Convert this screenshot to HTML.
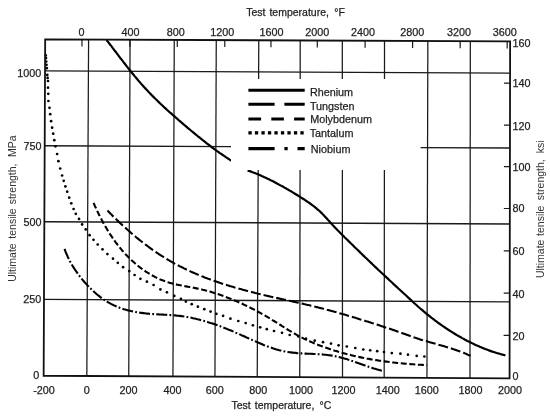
<!DOCTYPE html>
<html><head><meta charset="utf-8"><title>Ultimate tensile strength vs temperature</title>
<style>html,body{margin:0;padding:0;background:#fff;width:550px;height:417px;overflow:hidden}svg{display:block}</style>
</head><body>
<svg width="550" height="417" viewBox="0 0 550 417">
<rect width="550" height="417" fill="#fff"/>
<g stroke="#1a1a1a" fill="none"><line x1="88.59" y1="39.48" x2="86.83" y2="376.00" stroke-width="1.25"/><line x1="130.06" y1="39.67" x2="128.75" y2="376.24" stroke-width="1.25"/><line x1="174.26" y1="39.87" x2="172.95" y2="376.49" stroke-width="1.25"/><line x1="216.26" y1="40.06" x2="214.95" y2="376.73" stroke-width="1.25"/><line x1="258.77" y1="40.25" x2="258.60" y2="79.00" stroke-width="1.25"/><line x1="258.18" y1="170.00" x2="257.24" y2="376.97" stroke-width="1.25"/><line x1="300.22" y1="40.44" x2="300.17" y2="79.00" stroke-width="1.25"/><line x1="300.05" y1="170.00" x2="299.78" y2="377.21" stroke-width="1.25"/><line x1="342.29" y1="40.63" x2="342.31" y2="79.00" stroke-width="1.25"/><line x1="342.37" y1="170.00" x2="342.51" y2="377.46" stroke-width="1.25"/><line x1="384.51" y1="40.82" x2="384.48" y2="79.00" stroke-width="1.25"/><line x1="384.39" y1="170.00" x2="384.19" y2="377.70" stroke-width="1.25"/><line x1="427.84" y1="41.02" x2="426.96" y2="377.94" stroke-width="1.25"/><line x1="470.31" y1="41.21" x2="469.99" y2="378.19" stroke-width="1.25"/><line x1="45.03" y1="70.88" x2="510.07" y2="73.20" stroke-width="1.35"/><line x1="44.69" y1="145.78" x2="231.00" y2="146.67" stroke-width="1.35"/><line x1="420.40" y1="147.57" x2="509.95" y2="148.00" stroke-width="1.35"/><line x1="44.34" y1="221.78" x2="509.83" y2="223.99" stroke-width="1.35"/><line x1="43.99" y1="299.36" x2="509.70" y2="301.91" stroke-width="1.35"/><line x1="82.00" y1="39.45" x2="81.98" y2="46.45" stroke-width="1.2"/><line x1="129.90" y1="39.67" x2="129.88" y2="46.67" stroke-width="1.2"/><line x1="177.30" y1="39.89" x2="177.28" y2="46.89" stroke-width="1.2"/><line x1="224.80" y1="40.10" x2="224.78" y2="47.10" stroke-width="1.2"/><line x1="271.00" y1="40.31" x2="270.98" y2="47.31" stroke-width="1.2"/><line x1="317.30" y1="40.52" x2="317.28" y2="47.52" stroke-width="1.2"/><line x1="365.10" y1="40.73" x2="365.08" y2="47.73" stroke-width="1.2"/><line x1="412.60" y1="40.95" x2="412.58" y2="47.95" stroke-width="1.2"/><line x1="460.20" y1="41.17" x2="460.18" y2="48.17" stroke-width="1.2"/><line x1="507.20" y1="41.38" x2="507.18" y2="48.38" stroke-width="1.2"/><line x1="510.06" y1="83.20" x2="504.06" y2="83.18" stroke-width="1.2"/><line x1="509.99" y1="125.10" x2="503.99" y2="125.08" stroke-width="1.2"/><line x1="509.92" y1="166.60" x2="503.92" y2="166.58" stroke-width="1.2"/><line x1="509.85" y1="208.50" x2="503.85" y2="208.48" stroke-width="1.2"/><line x1="509.78" y1="250.80" x2="503.78" y2="250.78" stroke-width="1.2"/><line x1="509.71" y1="293.10" x2="503.71" y2="293.08" stroke-width="1.2"/><line x1="509.64" y1="335.40" x2="503.64" y2="335.38" stroke-width="1.2"/></g>
<g stroke="#000" fill="none" stroke-linecap="butt"><path d="M106.5,40.0 L107.5,41.2 L108.4,42.4 L109.3,43.5 L110.2,44.7 L111.2,45.9 L112.1,47.1 L113.0,48.4 L113.9,49.6 L114.8,50.8 L115.8,52.0 L116.7,53.2 L117.6,54.4 L118.5,55.6 L119.4,56.8 L120.3,58.0 L121.3,59.2 L122.2,60.4 L123.1,61.6 L124.0,62.8 L125.0,64.0 L125.9,65.2 L126.8,66.4 L127.8,67.6 L128.7,68.8 L129.7,70.0 L130.6,71.2 L131.5,72.3 L132.5,73.5 L133.5,74.7 L134.4,75.9 L135.4,77.0 L136.4,78.2 L137.3,79.3 L138.3,80.5 L139.3,81.6 L140.3,82.8 L141.3,83.9 L142.3,85.1 L143.3,86.2 L144.3,87.3 L145.3,88.4 L146.4,89.5 L147.4,90.6 L148.4,91.7 L149.5,92.8 L150.5,93.9 L151.6,95.0 L152.7,96.1 L153.7,97.1 L154.8,98.2 L155.9,99.3 L157.0,100.3 L158.0,101.4 L159.1,102.4 L160.2,103.5 L161.3,104.5 L162.4,105.5 L163.5,106.6 L164.6,107.6 L165.8,108.6 L166.9,109.7 L168.0,110.7 L169.1,111.7 L170.2,112.7 L171.4,113.7 L172.5,114.7 L173.6,115.7 L174.8,116.7 L175.9,117.7 L177.1,118.7 L178.2,119.7 L179.3,120.7 L180.5,121.7 L181.6,122.7 L182.8,123.7 L183.9,124.7 L185.1,125.6 L186.3,126.6 L187.4,127.6 L188.6,128.6 L189.7,129.5 L190.9,130.5 L192.1,131.5 L193.2,132.4 L194.4,133.4 L195.6,134.4 L196.8,135.3 L197.9,136.3 L199.1,137.2 L200.3,138.2 L201.5,139.1 L202.7,140.1 L203.8,141.0 L205.0,141.9 L206.2,142.9 L207.4,143.8 L208.6,144.7 L209.8,145.6 L211.0,146.6 L212.2,147.5 L213.4,148.4 L214.6,149.3 L215.9,150.2 L217.1,151.1 L218.3,151.9 L219.5,152.8 L220.8,153.7 L222.0,154.5 L223.3,155.4 L224.5,156.2 L225.8,157.1 L227.0,157.9 L228.3,158.7 L229.6,159.6 L230.9,160.4 L232.2,161.2 L233.5,161.9 L234.8,162.7 L236.1,163.5" stroke-width="2.2"/><path d="M247.6,170.4 L249.0,170.9 L250.5,171.4 L251.9,171.9 L253.3,172.5 L254.7,173.0 L256.1,173.6 L257.5,174.1 L258.9,174.7 L260.3,175.3 L261.6,175.9 L263.0,176.5 L264.4,177.2 L265.8,177.8 L267.1,178.5 L268.5,179.1 L269.8,179.8 L271.2,180.5 L272.5,181.1 L273.9,181.8 L275.2,182.5 L276.5,183.2 L277.9,183.9 L279.2,184.7 L280.5,185.4 L281.8,186.1 L283.2,186.8 L284.5,187.6 L285.8,188.3 L287.1,189.1 L288.4,189.8 L289.7,190.6 L291.0,191.3 L292.3,192.1 L293.6,192.9 L294.9,193.7 L296.2,194.5 L297.5,195.3 L298.8,196.1 L300.1,196.9 L301.3,197.7 L302.6,198.5 L303.9,199.3 L305.1,200.1 L306.4,201.0 L307.6,201.8 L308.9,202.7 L310.1,203.5 L311.3,204.4 L312.5,205.3 L313.7,206.2 L314.9,207.1 L316.1,208.1 L317.2,209.1 L318.4,210.0 L319.5,211.0 L320.6,212.1 L321.7,213.1 L322.7,214.2 L323.8,215.3 L324.8,216.4 L325.8,217.5 L326.8,218.6 L327.8,219.7 L328.9,220.8 L329.9,221.9 L330.9,223.1 L331.9,224.2 L332.9,225.3 L334.0,226.4 L335.0,227.5 L336.0,228.6 L337.1,229.7 L338.1,230.7 L339.2,231.8 L340.3,232.9 L341.3,234.0 L342.4,235.0 L343.5,236.1 L344.5,237.2 L345.6,238.2 L346.7,239.3 L347.8,240.3 L348.8,241.4 L349.9,242.4 L351.0,243.5 L352.1,244.5 L353.2,245.6 L354.2,246.7 L355.3,247.7 L356.4,248.8 L357.5,249.8 L358.6,250.9 L359.7,251.9 L360.7,253.0 L361.8,254.0 L362.9,255.1 L364.0,256.1 L365.1,257.2 L366.2,258.2 L367.3,259.2 L368.3,260.3 L369.4,261.3 L370.5,262.4 L371.6,263.4 L372.7,264.5 L373.8,265.5 L374.9,266.6 L376.0,267.6 L377.1,268.6 L378.2,269.7 L379.3,270.7 L380.4,271.7 L381.5,272.8 L382.6,273.8 L383.7,274.8 L384.8,275.9 L385.9,276.9 L387.0,277.9 L388.1,278.9 L389.2,280.0 L390.3,281.0 L391.4,282.0 L392.5,283.0 L393.6,284.1 L394.7,285.1 L395.8,286.1 L397.0,287.1 L398.1,288.2 L399.2,289.2 L400.3,290.2 L401.4,291.2 L402.5,292.2 L403.6,293.3 L404.7,294.3 L405.8,295.3 L406.9,296.3 L408.0,297.4 L409.1,298.4 L410.2,299.4 L411.3,300.4 L412.4,301.5 L413.5,302.5 L414.6,303.5 L415.8,304.5 L416.9,305.5 L418.0,306.5 L419.1,307.5 L420.3,308.5 L421.4,309.5 L422.6,310.4 L423.7,311.4 L424.9,312.4 L426.0,313.3 L427.2,314.3 L428.4,315.2 L429.5,316.2 L430.7,317.1 L431.9,318.0 L433.1,319.0 L434.3,319.9 L435.5,320.8 L436.7,321.7 L437.9,322.6 L439.2,323.5 L440.4,324.3 L441.6,325.2 L442.9,326.1 L444.1,326.9 L445.3,327.8 L446.6,328.6 L447.9,329.5 L449.1,330.3 L450.4,331.1 L451.7,331.9 L453.0,332.7 L454.2,333.5 L455.5,334.3 L456.8,335.1 L458.1,335.8 L459.4,336.6 L460.8,337.3 L462.1,338.1 L463.4,338.8 L464.7,339.5 L466.1,340.2 L467.4,340.9 L468.8,341.6 L470.1,342.3 L471.5,342.9 L472.8,343.6 L474.2,344.2 L475.5,344.9 L476.9,345.5 L478.3,346.1 L479.7,346.7 L481.1,347.3 L482.5,347.9 L483.9,348.4 L485.3,349.0 L486.7,349.5 L488.1,350.1 L489.5,350.6 L490.9,351.1 L492.4,351.6 L493.8,352.0 L495.2,352.5 L496.7,353.0 L498.1,353.4 L499.6,353.8 L501.0,354.2 L502.5,354.6 L503.9,355.0 L505.4,355.4" stroke-width="2.2"/><path d="M107.5,210.6 L108.5,211.6 L109.6,212.7 L110.6,213.8 L111.7,214.8 L112.7,215.9 L113.8,216.9 L114.9,218.0 L116.0,219.1 L117.0,220.1 L118.1,221.1 L119.2,222.2 L120.3,223.2 L121.4,224.2 L122.5,225.3 L123.6,226.3 L124.7,227.3 L125.9,228.3 L127.0,229.3 L128.1,230.3 L129.3,231.3 L130.4,232.3 L131.5,233.3 L132.7,234.3 L133.8,235.3 L135.0,236.2 L136.2,237.2 L137.3,238.2 L138.5,239.1 L139.7,240.1 L140.9,241.0 L142.1,242.0 L143.2,242.9 L144.4,243.8 L145.6,244.7 L146.9,245.6 L148.1,246.5 L149.3,247.4 L150.5,248.3 L151.7,249.2 L153.0,250.1 L154.2,250.9 L155.4,251.8 L156.7,252.6 L157.9,253.5 L159.2,254.3 L160.5,255.1 L161.7,255.9 L163.0,256.7 L164.3,257.5 L165.6,258.3 L166.9,259.1 L168.2,259.9 L169.5,260.6 L170.8,261.4 L172.1,262.1 L173.4,262.8 L174.7,263.6 L176.0,264.3 L177.3,265.0 L178.7,265.7 L180.0,266.4 L181.4,267.0 L182.7,267.7 L184.0,268.4 L185.4,269.0 L186.8,269.7 L188.1,270.3 L189.5,270.9 L190.8,271.6 L192.2,272.2 L193.6,272.8 L195.0,273.4 L196.4,274.0 L197.7,274.6 L199.1,275.1 L200.5,275.7 L201.9,276.3 L203.3,276.8 L204.7,277.4 L206.1,277.9 L207.5,278.5 L209.0,279.0 L210.4,279.5 L211.8,280.0 L213.2,280.5 L214.6,281.0 L216.1,281.5 L217.5,282.0 L218.9,282.5 L220.3,283.0 L221.8,283.5 L223.2,283.9 L224.7,284.4 L226.1,284.8 L227.5,285.3 L229.0,285.7 L230.4,286.2 L231.9,286.6 L233.3,287.0 L234.8,287.5 L236.2,287.9 L237.7,288.3 L239.1,288.7 L240.6,289.1 L242.1,289.5 L243.5,289.9 L245.0,290.3 L246.4,290.7 L247.9,291.1 L249.4,291.5 L250.8,291.8 L252.3,292.2 L253.8,292.6 L255.2,293.0 L256.7,293.3 L258.2,293.7 L259.6,294.0 L261.1,294.4 L262.6,294.7 L264.0,295.1 L265.5,295.4 L267.0,295.8 L268.4,296.1 L269.9,296.4 L271.4,296.8 L272.8,297.1 L274.3,297.4 L275.8,297.8 L277.3,298.1 L278.7,298.4 L280.2,298.7 L281.7,299.1 L283.1,299.4 L284.6,299.7 L286.1,300.0 L287.5,300.4 L289.0,300.7 L290.5,301.0 L291.9,301.3 L293.4,301.7 L294.9,302.0 L296.3,302.3 L297.8,302.6 L299.3,303.0 L300.7,303.3 L302.2,303.6 L303.7,304.0 L305.1,304.3 L306.6,304.7 L308.1,305.0 L309.5,305.3 L311.0,305.7 L312.5,306.0 L313.9,306.4 L315.4,306.8 L316.9,307.1 L318.3,307.5 L319.8,307.9 L321.2,308.2 L322.7,308.6 L324.2,309.0 L325.6,309.4 L327.1,309.8 L328.5,310.1 L330.0,310.5 L331.4,310.9 L332.9,311.3 L334.3,311.7 L335.8,312.1 L337.3,312.5 L338.7,313.0 L340.2,313.4 L341.6,313.8 L343.1,314.2 L344.5,314.6 L346.0,315.0 L347.4,315.5 L348.9,315.9 L350.3,316.3 L351.8,316.8 L353.2,317.2 L354.6,317.6 L356.1,318.1 L357.5,318.5 L359.0,318.9 L360.4,319.4 L361.9,319.8 L363.3,320.3 L364.7,320.7 L366.2,321.2 L367.6,321.6 L369.0,322.1 L370.5,322.5 L371.9,323.0 L373.4,323.4 L374.8,323.9 L376.2,324.4 L377.7,324.8 L379.1,325.3 L380.5,325.8 L381.9,326.2 L383.4,326.7 L384.8,327.2 L386.2,327.7 L387.6,328.1 L389.1,328.6 L390.5,329.1 L391.9,329.6 L393.3,330.1 L394.8,330.6 L396.2,331.1 L397.6,331.6 L399.0,332.1 L400.4,332.6 L401.8,333.1 L403.3,333.6 L404.7,334.1 L406.1,334.6 L407.5,335.1 L408.9,335.6 L410.3,336.1 L411.8,336.6 L413.2,337.1 L414.6,337.6 L416.0,338.0 L417.5,338.5 L418.9,339.0 L420.3,339.4 L421.8,339.9 L423.2,340.3 L424.7,340.7 L426.1,341.1 L427.6,341.6 L429.0,342.0 L430.5,342.4 L431.9,342.8 L433.4,343.2 L434.8,343.6 L436.3,344.0 L437.7,344.5 L439.2,344.9 L440.6,345.3 L442.1,345.7 L443.5,346.1 L445.0,346.6 L446.4,347.0 L447.9,347.4 L449.3,347.9 L450.7,348.3 L452.2,348.8 L453.6,349.2 L455.1,349.7 L456.5,350.2 L457.9,350.7 L459.3,351.2 L460.7,351.7 L462.1,352.3 L463.6,352.8 L465.0,353.4 L466.4,354.0 L467.7,354.6 L469.1,355.2 L470.5,355.8" stroke-width="2.1" stroke-dasharray="10 3" stroke-dashoffset="1.5"/><path d="M93.6,202.9 L94.2,204.3 L94.8,205.7 L95.4,207.0 L96.1,208.4 L96.7,209.8 L97.3,211.1 L98.0,212.5 L98.6,213.8 L99.3,215.2 L100.0,216.5 L100.7,217.9 L101.4,219.2 L102.1,220.6 L102.8,221.9 L103.5,223.2 L104.3,224.5 L105.0,225.8 L105.8,227.1 L106.5,228.4 L107.3,229.7 L108.1,231.0 L108.9,232.3 L109.7,233.6 L110.5,234.8 L111.4,236.1 L112.2,237.3 L113.1,238.6 L113.9,239.8 L114.8,241.0 L115.7,242.3 L116.6,243.5 L117.5,244.7 L118.4,245.8 L119.4,247.0 L120.3,248.2 L121.3,249.4 L122.2,250.5 L123.2,251.6 L124.2,252.8 L125.2,253.9 L126.3,255.0 L127.3,256.1 L128.4,257.1 L129.4,258.2 L130.5,259.3 L131.6,260.3 L132.7,261.3 L133.9,262.3 L135.0,263.3 L136.2,264.3 L137.3,265.3 L138.5,266.2 L139.7,267.2 L140.9,268.1 L142.1,269.0 L143.3,269.9 L144.6,270.7 L145.8,271.6 L147.1,272.4 L148.4,273.2 L149.7,274.0 L151.0,274.8 L152.3,275.5 L153.6,276.2 L154.9,276.9 L156.3,277.6 L157.6,278.3 L159.0,278.9 L160.3,279.5 L161.7,280.1 L163.1,280.6 L164.5,281.1 L165.9,281.6 L167.3,282.1 L168.8,282.5 L170.2,282.9 L171.6,283.3 L173.1,283.7 L174.5,284.1 L176.0,284.4 L177.5,284.7 L178.9,285.0 L180.4,285.3 L181.9,285.6 L183.4,285.9 L184.9,286.2 L186.3,286.4 L187.8,286.7 L189.3,287.0 L190.8,287.2 L192.3,287.5 L193.8,287.8 L195.3,288.1 L196.7,288.4 L198.2,288.7 L199.7,289.0 L201.2,289.3 L202.6,289.7 L204.1,290.0 L205.5,290.4 L207.0,290.8 L208.4,291.2 L209.9,291.6 L211.3,292.0 L212.8,292.4 L214.2,292.9 L215.6,293.3 L217.1,293.8 L218.5,294.3 L219.9,294.8 L221.3,295.3 L222.8,295.8 L224.2,296.3 L225.6,296.8 L227.0,297.4 L228.4,297.9 L229.8,298.5 L231.2,299.0 L232.6,299.6 L234.0,300.2 L235.4,300.8 L236.8,301.4 L238.1,302.0 L239.5,302.6 L240.9,303.2 L242.3,303.8 L243.6,304.5 L245.0,305.1 L246.4,305.8 L247.7,306.4 L249.1,307.1 L250.4,307.8 L251.8,308.5 L253.1,309.1 L254.5,309.8 L255.8,310.5 L257.1,311.3 L258.5,312.0 L259.8,312.7 L261.1,313.4 L262.4,314.2 L263.8,314.9 L265.1,315.6 L266.4,316.4 L267.7,317.2 L269.0,317.9 L270.3,318.7 L271.6,319.5 L272.8,320.3 L274.1,321.0 L275.4,321.8 L276.7,322.6 L277.9,323.4 L279.2,324.2 L280.5,325.0 L281.7,325.8 L283.0,326.6 L284.3,327.4 L285.6,328.2 L286.8,329.0 L288.1,329.8 L289.4,330.6 L290.7,331.3 L292.0,332.1 L293.3,332.9 L294.6,333.6 L295.9,334.4 L297.2,335.1 L298.5,335.8 L299.8,336.5 L301.2,337.2 L302.5,337.9 L303.8,338.6 L305.2,339.2 L306.6,339.9 L307.9,340.5 L309.3,341.1 L310.7,341.8 L312.1,342.4 L313.5,343.0 L314.9,343.5 L316.3,344.1 L317.7,344.7 L319.1,345.2 L320.5,345.8 L321.9,346.3 L323.3,346.8 L324.8,347.3 L326.2,347.8 L327.6,348.3 L329.0,348.8 L330.5,349.3 L331.9,349.8 L333.3,350.2 L334.8,350.7 L336.2,351.1 L337.7,351.6 L339.1,352.0 L340.6,352.4 L342.0,352.8 L343.5,353.2 L344.9,353.6 L346.4,354.0 L347.8,354.4 L349.3,354.7 L350.8,355.1 L352.2,355.4 L353.7,355.8 L355.2,356.1 L356.6,356.4 L358.1,356.8 L359.6,357.1 L361.1,357.4 L362.5,357.7 L364.0,358.0 L365.5,358.3 L367.0,358.6 L368.4,358.8 L369.9,359.1 L371.4,359.4 L372.9,359.6 L374.4,359.9 L375.9,360.1 L377.4,360.3 L378.9,360.6 L380.3,360.8 L381.8,361.0 L383.3,361.2 L384.8,361.4 L386.3,361.6 L387.8,361.8 L389.3,362.0 L390.8,362.2 L392.3,362.4 L393.8,362.5 L395.3,362.7 L396.8,362.9 L398.3,363.0 L399.8,363.2 L401.3,363.3 L402.8,363.5 L404.3,363.6 L405.8,363.7 L407.3,363.9 L408.8,364.0 L410.3,364.1 L411.8,364.2 L413.4,364.3 L414.9,364.5 L416.4,364.6 L417.9,364.7 L419.4,364.8 L420.9,364.8 L422.4,364.9 L423.9,365.0 L425.4,365.1 L426.9,365.2" stroke-width="2.1" stroke-dasharray="6 2.6"/><path d="M64.5,248.8 L65.0,250.2 L65.5,251.6 L66.1,253.0 L66.7,254.4 L67.3,255.8 L67.9,257.1 L68.6,258.5 L69.3,259.8 L69.9,261.2 L70.7,262.5 L71.4,263.8 L72.1,265.1 L72.9,266.4 L73.7,267.7 L74.5,268.9 L75.3,270.2 L76.2,271.4 L77.1,272.7 L77.9,273.9 L78.8,275.1 L79.8,276.3 L80.7,277.5 L81.6,278.7 L82.6,279.9 L83.6,281.0 L84.6,282.2 L85.6,283.3 L86.6,284.4 L87.7,285.6 L88.7,286.7 L89.8,287.8 L90.9,288.8 L92.0,289.9 L93.1,290.9 L94.2,292.0 L95.4,293.0 L96.5,294.0 L97.7,295.0 L98.9,295.9 L100.1,296.9 L101.3,297.8 L102.5,298.7 L103.7,299.5 L105.0,300.4 L106.2,301.2 L107.5,302.0 L108.8,302.7 L110.1,303.4 L111.4,304.1 L112.8,304.8 L114.1,305.4 L115.5,306.0 L116.9,306.6 L118.2,307.2 L119.6,307.7 L121.0,308.2 L122.5,308.7 L123.9,309.2 L125.3,309.6 L126.8,310.0 L128.2,310.4 L129.7,310.7 L131.1,311.1 L132.6,311.4 L134.1,311.7 L135.6,312.0 L137.1,312.3 L138.6,312.5 L140.1,312.7 L141.6,312.9 L143.1,313.1 L144.6,313.3 L146.1,313.5 L147.7,313.6 L149.2,313.8 L150.7,313.9 L152.2,314.0 L153.8,314.1 L155.3,314.2 L156.8,314.3 L158.4,314.4 L159.9,314.5 L161.4,314.5 L163.0,314.6 L164.5,314.7 L166.0,314.8 L167.5,314.9 L169.1,315.0 L170.6,315.1 L172.1,315.2 L173.6,315.3 L175.1,315.4 L176.7,315.6 L178.2,315.7 L179.7,315.9 L181.2,316.1 L182.7,316.3 L184.2,316.5 L185.6,316.7 L187.1,317.0 L188.6,317.3 L190.1,317.5 L191.5,317.8 L193.0,318.2 L194.5,318.5 L195.9,318.8 L197.4,319.2 L198.9,319.5 L200.3,319.9 L201.8,320.3 L203.2,320.7 L204.6,321.1 L206.1,321.5 L207.5,322.0 L208.9,322.4 L210.4,322.9 L211.8,323.3 L213.2,323.8 L214.7,324.3 L216.1,324.8 L217.5,325.3 L218.9,325.8 L220.3,326.3 L221.7,326.9 L223.1,327.4 L224.5,328.0 L226.0,328.5 L227.4,329.1 L228.8,329.7 L230.2,330.2 L231.6,330.8 L233.0,331.4 L234.4,332.0 L235.7,332.6 L237.1,333.2 L238.5,333.8 L239.9,334.4 L241.3,335.1 L242.7,335.7 L244.1,336.3 L245.5,337.0 L246.9,337.6 L248.3,338.2 L249.6,338.8 L251.0,339.5 L252.4,340.1 L253.8,340.7 L255.2,341.3 L256.6,341.9 L258.0,342.6 L259.4,343.1 L260.8,343.7 L262.2,344.3 L263.6,344.9 L265.0,345.4 L266.4,346.0 L267.8,346.5 L269.2,347.0 L270.6,347.5 L272.1,348.0 L273.5,348.5 L274.9,348.9 L276.4,349.4 L277.8,349.8 L279.2,350.2 L280.7,350.5 L282.2,350.9 L283.6,351.2 L285.1,351.5 L286.6,351.8 L288.0,352.0 L289.5,352.2 L291.0,352.4 L292.5,352.6 L294.0,352.8 L295.5,352.9 L297.0,353.1 L298.5,353.2 L300.1,353.3 L301.6,353.4 L303.1,353.5 L304.6,353.6 L306.1,353.6 L307.7,353.7 L309.2,353.8 L310.7,353.8 L312.2,353.9 L313.8,354.0 L315.3,354.0 L316.8,354.1 L318.3,354.2 L319.8,354.3 L321.4,354.4 L322.9,354.5 L324.4,354.7 L325.9,354.8 L327.4,355.0 L328.9,355.2 L330.4,355.4 L331.9,355.6 L333.4,355.9 L334.8,356.1 L336.3,356.4 L337.8,356.8 L339.2,357.1 L340.7,357.5 L342.1,357.9 L343.6,358.3 L345.0,358.7 L346.5,359.1 L347.9,359.6 L349.3,360.0 L350.8,360.5 L352.2,361.0 L353.6,361.5 L355.1,362.0 L356.5,362.5 L357.9,363.0 L359.3,363.5 L360.8,364.0 L362.2,364.5 L363.6,365.0 L365.1,365.5 L366.5,366.0 L367.9,366.5 L369.4,367.0 L370.8,367.5 L372.3,367.9 L373.7,368.4 L375.1,368.8 L376.6,369.3 L378.1,369.7 L379.5,370.1 L381.0,370.5 L382.5,370.8" stroke-width="2.1" stroke-dasharray="11 2.2 1.8 2.2"/></g>
<g fill="#000" stroke="none"><circle cx="45.8" cy="55.4" r="1.35"/><circle cx="46" cy="58.1" r="1.35"/><circle cx="46.2" cy="61.5" r="1.35"/><circle cx="46.5" cy="64.8" r="1.35"/><circle cx="46.8" cy="68.2" r="1.35"/><circle cx="47.3" cy="74.9" r="1.35"/><circle cx="47.6" cy="77.9" r="1.35"/><circle cx="48" cy="81" r="1.35"/><circle cx="48" cy="87.7" r="1.35"/><circle cx="48.3" cy="93.8" r="1.35"/><circle cx="48.4" cy="101" r="1.35"/><circle cx="49.5" cy="107.8" r="1.35"/><circle cx="50.2" cy="114.2" r="1.35"/><circle cx="51.1" cy="121.2" r="1.35"/><circle cx="52.1" cy="127.7" r="1.35"/><circle cx="53.2" cy="133.7" r="1.35"/><circle cx="54.3" cy="140.2" r="1.35"/><circle cx="55.4" cy="146.3" r="1.35"/><circle cx="57.1" cy="154" r="1.35"/><circle cx="58.4" cy="161.2" r="1.35"/><circle cx="60.2" cy="168.5" r="1.35"/><circle cx="62.1" cy="175.5" r="1.35"/><circle cx="63.7" cy="180.8" r="1.35"/><circle cx="65.4" cy="186.4" r="1.35"/><circle cx="67.2" cy="191.7" r="1.35"/><circle cx="69.2" cy="197.7" r="1.35"/><circle cx="71.3" cy="203.3" r="1.35"/><circle cx="73.6" cy="209" r="1.35"/><circle cx="75.8" cy="213.8" r="1.35"/><circle cx="79" cy="218.9" r="1.35"/><circle cx="82.1" cy="224.4" r="1.35"/><circle cx="85.7" cy="229.4" r="1.35"/><circle cx="89.6" cy="235.2" r="1.35"/><circle cx="93.5" cy="239.8" r="1.35"/><circle cx="97.7" cy="244.5" r="1.35"/><circle cx="102.5" cy="249.3" r="1.35"/><circle cx="107.4" cy="254.1" r="1.35"/><circle cx="113" cy="258.7" r="1.35"/><circle cx="117.8" cy="262.8" r="1.35"/><circle cx="123.1" cy="267.2" r="1.35"/><circle cx="129.3" cy="271.1" r="1.35"/><circle cx="134.6" cy="275" r="1.35"/><circle cx="140.4" cy="278.8" r="1.35"/><circle cx="146.9" cy="281.7" r="1.35"/><circle cx="153.6" cy="285" r="1.35"/><circle cx="160.4" cy="289.4" r="1.35"/><circle cx="166.9" cy="292.3" r="1.35"/><circle cx="174.3" cy="295.9" r="1.35"/><circle cx="180.9" cy="298.8" r="1.35"/><circle cx="185.9" cy="301.6" r="1.35"/><circle cx="191.7" cy="304.2" r="1.35"/><circle cx="197.9" cy="306.7" r="1.35"/><circle cx="204.3" cy="309.2" r="1.35"/><circle cx="210.6" cy="311.6" r="1.35"/><circle cx="216.4" cy="313.8" r="1.35"/><circle cx="223.1" cy="315.8" r="1.35"/><circle cx="230.4" cy="318.7" r="1.35"/><circle cx="238.3" cy="321" r="1.35"/><circle cx="245.7" cy="323.1" r="1.35"/><circle cx="252.9" cy="325.3" r="1.35"/><circle cx="260.2" cy="327.3" r="1.35"/><circle cx="266.8" cy="329.2" r="1.35"/><circle cx="274" cy="331" r="1.35"/><circle cx="282" cy="332.8" r="1.35"/><circle cx="289.7" cy="335" r="1.35"/><circle cx="298.3" cy="336.5" r="1.35"/><circle cx="306" cy="338.7" r="1.35"/><circle cx="314.7" cy="340.7" r="1.35"/><circle cx="323" cy="342.2" r="1.35"/><circle cx="331" cy="343.6" r="1.35"/><circle cx="338.6" cy="345.3" r="1.35"/><circle cx="346.8" cy="346.5" r="1.35"/><circle cx="355.3" cy="348" r="1.35"/><circle cx="363.3" cy="349.5" r="1.35"/><circle cx="370.2" cy="350.3" r="1.35"/><circle cx="377.2" cy="351.2" r="1.35"/><circle cx="384" cy="352" r="1.35"/><circle cx="391.8" cy="353.1" r="1.35"/><circle cx="400.4" cy="353.7" r="1.35"/><circle cx="408" cy="354.7" r="1.35"/><circle cx="416.7" cy="355.9" r="1.35"/><circle cx="424.4" cy="356.5" r="1.35"/></g>
<g stroke="#000" fill="none"><rect x="231" y="79" width="189.4" height="91" fill="#fff" stroke="none"/><line x1="248.4" y1="90.2" x2="304.7" y2="90.2" stroke-width="3.0"/><path d="M248.4,104.3 H274.6 M284.4,104.3 H304.7" stroke-width="3.1"/><path d="M248.4,119 H261.1 M271.3,119 H283.9 M294.1,119 H304.7" stroke-width="3.1"/><g fill="#000" stroke="none"><rect x="248.4" y="131.2" width="3.3" height="3.3"/><rect x="254.9" y="131.2" width="3.3" height="3.3"/><rect x="261.4" y="131.2" width="3.3" height="3.3"/><rect x="267.9" y="131.2" width="3.3" height="3.3"/><rect x="274.4" y="131.2" width="3.3" height="3.3"/><rect x="280.9" y="131.2" width="3.3" height="3.3"/><rect x="287.4" y="131.2" width="3.3" height="3.3"/><rect x="293.9" y="131.2" width="3.3" height="3.3"/><rect x="300.4" y="131.2" width="3.3" height="3.3"/></g><path d="M248.4,148.6 H274.6 M284.4,148.6 H287.7 M297.5,148.6 H304.7" stroke-width="3.1"/></g>
<g stroke="#111" fill="none"><polygon points="45.18,39.29 510.12,41.39 509.57,378.41 43.64,375.75" fill="none" stroke-width="1.8" stroke-linejoin="miter"/></g>
<g fill="#1e1e1e" stroke="#1e1e1e" stroke-width="0.25" font-family="'Liberation Sans', Arial, sans-serif" font-size="10.8"><text x="81.6" y="35.6" text-anchor="middle">0</text><text x="130.4" y="35.6" text-anchor="middle">400</text><text x="175.8" y="35.6" text-anchor="middle">800</text><text x="222.2" y="35.6" text-anchor="middle">1200</text><text x="271.5" y="35.6" text-anchor="middle">1600</text><text x="317.2" y="35.6" text-anchor="middle">2000</text><text x="363.0" y="35.6" text-anchor="middle">2400</text><text x="412.3" y="35.6" text-anchor="middle">2800</text><text x="458.9" y="35.6" text-anchor="middle">3200</text><text x="504.7" y="35.6" text-anchor="middle">3600</text><text x="44.0" y="394.0" text-anchor="middle">-200</text><text x="86.8" y="394.0" text-anchor="middle">0</text><text x="128.6" y="394.0" text-anchor="middle">200</text><text x="172.4" y="394.0" text-anchor="middle">400</text><text x="214.7" y="394.0" text-anchor="middle">600</text><text x="258.3" y="394.0" text-anchor="middle">800</text><text x="301.0" y="394.0" text-anchor="middle">1000</text><text x="343.5" y="394.0" text-anchor="middle">1200</text><text x="387.7" y="394.0" text-anchor="middle">1400</text><text x="426.8" y="394.0" text-anchor="middle">1600</text><text x="470.6" y="394.0" text-anchor="middle">1800</text><text x="510.1" y="394.0" text-anchor="middle">2000</text><text x="41.4" y="76.8" text-anchor="end">1000</text><text x="41.5" y="150.2" text-anchor="end">750</text><text x="41.5" y="226.1" text-anchor="end">500</text><text x="41.3" y="303.2" text-anchor="end">250</text><text x="39.3" y="378.8" text-anchor="end">0</text><text x="512.5" y="47.4" text-anchor="start">160</text><text x="512.5" y="86.7" text-anchor="start">140</text><text x="512.5" y="129.7" text-anchor="start">120</text><text x="512.5" y="171.1" text-anchor="start">100</text><text x="512.5" y="212.1" text-anchor="start">80</text><text x="512.5" y="255.4" text-anchor="start">60</text><text x="512.5" y="297.9" text-anchor="start">40</text><text x="512.5" y="339.9" text-anchor="start">20</text><text x="512.5" y="380.4" text-anchor="start">0</text><text y="15.6" font-size="10.5" text-anchor="start"><tspan x="246.2">Test</tspan><tspan x="269.4">temperature,</tspan><tspan x="334.2">°F</tspan></text><text y="408.8" font-size="10.5" text-anchor="start"><tspan x="231.4">Test</tspan><tspan x="254.8">temperature,</tspan><tspan x="319.6">°C</tspan></text><text transform="translate(16.4,0) rotate(-90)" text-anchor="middle" font-size="10.5" stroke="none" fill="#333"><tspan x="-262.6">Ultimate</tspan><tspan x="-223.5">tensile</tspan><tspan x="-183.9">strength,</tspan><tspan x="-146.3">MPa</tspan></text><text transform="translate(543.7,0) rotate(-90)" text-anchor="middle" font-size="10.5" stroke="none" fill="#333"><tspan x="-258.8">Ultimate</tspan><tspan x="-220.8">tensile</tspan><tspan x="-179.7">strength,</tspan><tspan x="-146.8">ksi</tspan></text><text x="309.9" y="95.7" text-anchor="start">Rhenium</text><text x="309.9" y="109.7" text-anchor="start">Tungsten</text><text x="310.2" y="123.0" text-anchor="start">Molybdenum</text><text x="309.7" y="137.0" text-anchor="start">Tantalum</text><text x="310.8" y="152.6" text-anchor="start">Niobium</text></g>
</svg>
</body></html>
